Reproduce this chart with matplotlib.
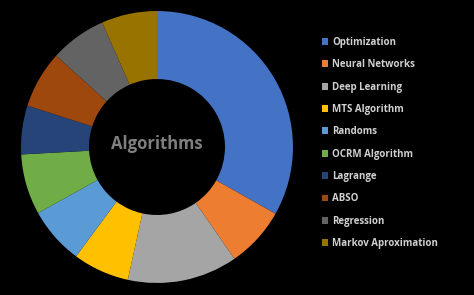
import matplotlib.pyplot as plt
from matplotlib.patches import Patch

labels = [
    "Optimization", "Neural Networks", "Deep Learning", "MTS Algorithm",
    "Randoms", "OCRM Algorithm", "Lagrange", "ABSO", "Regression",
    "Markov Aproximation",
]
values = [33.2, 7.2, 13.1, 6.7, 6.8, 7.2, 5.8, 6.8, 6.7, 6.6]
colors = [
    "#4472C4", "#ED7D31", "#A5A5A5", "#FFC000", "#5B9BD5",
    "#70AD47", "#264478", "#9E480E", "#636363", "#997300",
]
center_title = "Algorithms"

fig = plt.figure(figsize=(4.74, 2.95), dpi=100, facecolor="black")
ax = fig.add_axes([0.0443, 0.0407, 0.5738, 0.922])
ax.set_facecolor("black")

ax.pie(
    values,
    colors=colors,
    startangle=90,
    counterclock=False,
    radius=1.0,
    wedgeprops=dict(width=0.5, edgecolor="none"),
)
ax.set_xlim(-1, 1)
ax.set_ylim(-1, 1)
ax.set_aspect("equal")

ax.text(0, 0.02, center_title, ha="center", va="center", fontsize=12,
        fontweight="bold", color="#7F7F7F", family="Open Sans")

handles = [Patch(facecolor=c, edgecolor="none") for c in colors]
leg = fig.legend(
    handles, labels,
    loc="upper left",
    bbox_to_anchor=(0.66, 0.905),
    frameon=False,
    handlelength=0.7,
    handleheight=0.7,
    handletextpad=0.4,
    labelspacing=1.17,
    prop={"family": "Open Sans", "size": 7, "weight": "bold"},
)
for t in leg.get_texts():
    t.set_color("#D0D0D0")

fig.savefig("out.png", dpi=100, facecolor="black")
